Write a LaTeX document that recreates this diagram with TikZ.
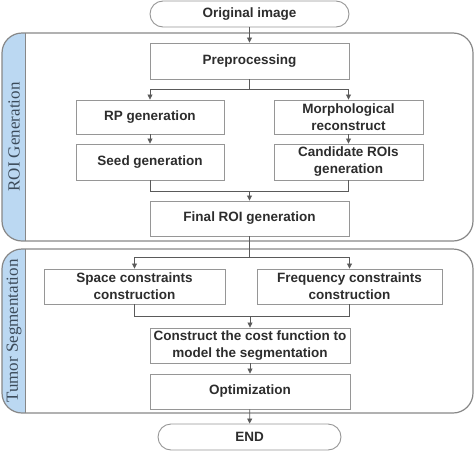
\documentclass[tikz,border=0pt]{standalone}
\usepackage{fontspec}
\setmainfont{Liberation Serif}
\newfontfamily\boxfont{Liberation Sans}
\usetikzlibrary{arrows.meta}
\definecolor{boxline}{RGB}{150,150,150}
\definecolor{connline}{RGB}{90,90,90}
\definecolor{frameline}{RGB}{135,135,135}
\definecolor{bandfill}{RGB}{187,216,242}
\definecolor{bandtext}{RGB}{60,75,90}
\definecolor{boxtext}{RGB}{45,45,45}
\tikzset{
  procbox/.style={draw=boxline, line width=0.9pt, fill=white, minimum width=#1,
    inner sep=0pt, align=center, text=boxtext,
    font=\boxfont\bfseries\fontsize{13.5}{17}\selectfont},
  pill/.style={procbox=#1, rounded corners=13pt, minimum height=26pt},
  conn/.style={draw=connline, line width=0.8pt},
  arr/.style={conn, -{Triangle[length=5pt,width=5pt]}},
  bandlabel/.style={rotate=90, text=bandtext, font=\fontsize{17}{20}\selectfont, inner sep=0pt},
}
\begin{document}
\begin{tikzpicture}[x=1pt,y=-1pt]
\useasboundingbox (0,0) rectangle (474,453);

% containers
\foreach \ya/\yb in {33/241, 249/413}{
  \begin{scope}
    \clip[rounded corners=20pt] (2,\ya) rectangle (473,\yb);
    \fill[bandfill] (2,\ya) rectangle (25,\yb);
  \end{scope}
  \draw[frameline, line width=0.8pt] (25,\ya) -- (25,\yb);
  \draw[frameline, line width=1.2pt, rounded corners=20pt] (2,\ya) rectangle (473,\yb);
}
\node[bandlabel] (lblroi) at (14,137) {ROI Generation};
\node[bandlabel] (lbltum) at (14,331) {Tumor Segmentation};

% nodes
\node[pill=199pt] (orig) at (249.5,14) {Original image};
\node[procbox=199pt, minimum height=36pt] (pre) at (249.5,61) {Preprocessing};
\node[procbox=148pt, minimum height=34pt] (rp) at (150,117) {RP generation};
\node[procbox=149pt, minimum height=34pt] (morph) at (348.5,117) {Morphological\\reconstruct};
\node[procbox=148pt, minimum height=36pt] (seed) at (150,162) {Seed generation};
\node[procbox=149pt, minimum height=36pt] (cand) at (348.5,162) {Candidate ROIs\\generation};
\node[procbox=199pt, minimum height=35pt] (final) at (249.5,218.5) {Final ROI generation};
\node[procbox=181pt, minimum height=35pt] (space) at (134.5,286.5) {Space constraints\\construction};
\node[procbox=185pt, minimum height=35pt] (freq) at (349.5,286.5) {Frequency constraints\\construction};
\node[procbox=200pt, minimum height=35pt] (cost) at (250,345.5) {Construct the cost function to\\model the segmentation};
\node[procbox=200pt, minimum height=35pt] (opt) at (250,391.5) {Optimization};
\node[pill=183pt] (end) at (249.5,437) {END};

% junction coordinates
\coordinate (split1) at (249.5,89);
\coordinate (merge1) at (249.5,191);
\coordinate (split2) at (249.5,257);
\coordinate (merge2) at (250,316);

% connectors
\draw[arr] (orig) -- (pre);
\draw[conn] (pre) -- (split1);
\draw[arr] (split1) -| (rp);
\draw[arr] (split1) -| (morph);
\draw[arr] (rp) -- (seed);
\draw[arr] (morph) -- (cand);
\draw[conn] (seed) |- (merge1);
\draw[conn] (cand) |- (merge1);
\draw[arr] (merge1) -- (final);
\draw[conn] (final) -- (split2);
\draw[arr] (split2) -| (space);
\draw[arr] (split2) -| (freq);
\draw[conn] (space) |- (merge2);
\draw[conn] (freq) |- (merge2);
\draw[arr] (merge2) -- (cost);
\draw[arr] (cost) -- (opt);
\draw[arr] (opt) -- (end);
\end{tikzpicture}
\end{document}
